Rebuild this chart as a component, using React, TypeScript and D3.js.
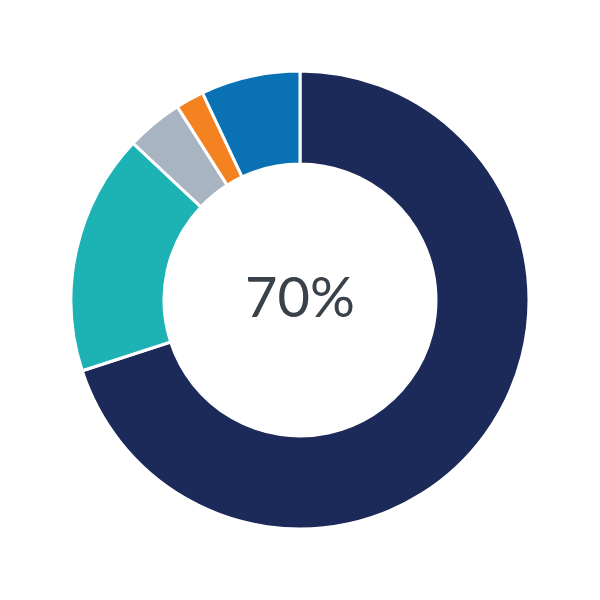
import * as d3 from "d3";
import { useEffect, useRef } from "react";

const labels = ["Navy", "Teal", "Gray", "Orange", "Blue"];
const values = [70, 17, 4, 2, 7];
const colors = ["#1c2a5a", "#1db3b5", "#a9b4c2", "#f58220", "#0a72b4"];
const centerLabel = "70%";

export default function App() {
  const ref = useRef<SVGSVGElement | null>(null);

  useEffect(() => {
    if (!ref.current) return;
    const width = 600;
    const height = 600;
    const svg = d3.select(ref.current);
    svg.selectAll("*").remove();

    const g = svg
      .append("g")
      .attr("transform", `translate(${width / 2 - 8},${height / 2 - 8})`);

    const pie = d3
      .pie<number>()
      .sort(null)
      .value((d) => d);
    const arc = d3.arc<d3.PieArcDatum<number>>().innerRadius(136).outerRadius(229);

    g.selectAll("path")
      .data(pie(values))
      .join("path")
      .attr("d", arc)
      .attr("fill", (_d, i) => colors[i])
      .attr("stroke", "#fff")
      .attr("stroke-width", 3)
      .append("title")
      .text((_d, i) => labels[i]);

    g.append("text")
      .attr("text-anchor", "middle")
      .attr("dy", "0.3em")
      .attr("fill", "#39414b")
      .style("font-family", "Lato, sans-serif")
      .style("font-size", "56px")
      .text(centerLabel);
  }, []);

  return <svg ref={ref} width={600} height={600} style={{ display: "block" }} />;
}
